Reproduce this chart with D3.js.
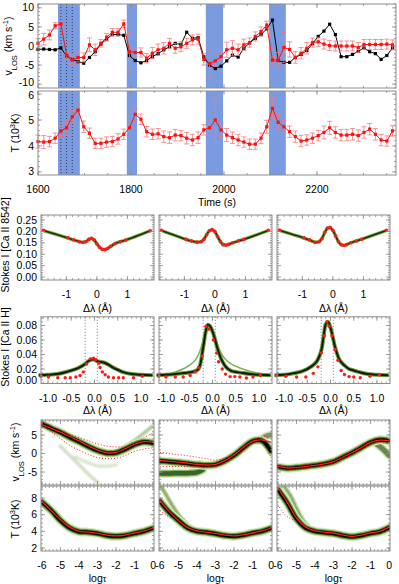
<!DOCTYPE html>
<html><head><meta charset="utf-8">
<script src="https://cdn.jsdelivr.net/npm/d3@7"></script>
<style>body{margin:0;background:#fff}svg{display:block}text{font-family:"Liberation Sans",Arial,sans-serif;fill:#000}</style>
</head><body><script>
// ---------------- DATA ----------------
const times=[1600.0,1612.3,1624.6,1636.9,1649.2,1661.5,1673.8,1686.1,1698.4,1710.7,1723.0,1735.3,1747.6,1759.9,1772.2,1784.5,1796.8,1809.1,1821.4,1833.7,1846.0,1858.3,1870.6,1882.9,1895.2,1907.5,1919.8,1932.1,1944.4,1956.7,1969.0,1981.3,1993.6,2005.9,2018.2,2030.5,2042.8,2055.1,2067.4,2079.7,2092.0,2104.3,2116.6,2128.9,2141.2,2153.5,2165.8,2178.1,2190.4,2202.7,2215.0,2227.3,2239.6,2251.9,2264.2,2276.5,2288.8,2301.1,2313.4,2325.7,2338.0,2350.3,2362.6];
const vBlack=[-0.9,-0.8,-0.9,-1.0,-0.5,-2.6,-3.5,-4.1,-4.5,-3.0,-1.5,0.5,1.8,3.0,3.0,2.8,-2.5,-3.8,-4.4,-3.8,-2.8,-2.0,-1.0,-0.2,0.7,0.4,3.6,2.0,2.2,-2.8,-5.0,-5.9,-5.3,-3.9,-2.4,-2.9,-0.6,0.8,2.0,3.0,4.5,6.8,-3.8,-4.3,-4.3,-3.0,-2.2,-1.2,0.6,2.5,3.9,5.7,3.0,-2.8,-2.8,-2.2,-1.4,-0.5,-1.5,-2.0,-3.5,-2.5,-0.5];
const vRed=[0.7,1.8,2.9,5.3,5.8,-2.4,-3.7,-3.0,-3.0,0.3,-1.0,0.7,2.3,3.6,3.6,5.8,-1.5,-1.7,-1.7,-3.2,-1.9,-1.0,-0.6,0.7,-0.6,-0.2,0.7,1.6,1.8,-3.5,-4.6,-3.9,-2.8,-1.0,-0.6,-1.0,0.3,0.9,2.5,3.8,5.5,-3.7,-3.7,-0.4,-0.9,-3.0,-1.9,-0.6,0.9,1.1,0.5,0.1,0,0,0,0,-0.4,0.4,0.4,0.4,0.4,0.5,0.3];
const vRedErr=[1.2,1.5,1.3,0.8,0.6,0.8,1.2,1.2,1.2,1.8,1.5,1.0,1.0,1.0,1.0,1.0,5.0,1.2,1.2,1.2,1.5,1.5,1.5,1.3,1.3,1.3,1.3,1.3,1.3,1.5,3.5,1.5,1.2,2.0,2.0,1.5,1.5,1.2,1.2,1.2,1.0,1.0,2.0,4.0,2.0,1.5,1.5,1.5,1.2,1.2,1.3,1.3,1.3,1.3,1.3,1.3,1.3,1.3,1.3,1.3,1.3,1.3,1.3];
const tRed=[4.17,4.15,4.17,4.30,4.58,4.70,5.13,5.38,4.74,4.49,4.10,4.10,4.15,4.17,4.27,4.45,4.70,5.22,5.03,4.55,4.45,4.47,4.36,4.32,4.42,4.40,4.30,4.23,4.32,4.62,4.70,5.0,4.62,4.42,4.32,4.23,4.15,4.07,4.07,4.30,4.74,5.45,4.91,4.74,4.55,4.36,4.19,4.23,4.30,4.40,4.52,4.70,4.52,4.42,4.42,4.45,4.40,4.52,4.65,4.45,4.23,4.19,4.58];
const tRedErr=[0.25,0.25,0.2,0.2,0.22,0.3,0.25,0.2,0.22,0.2,0.2,0.2,0.2,0.2,0.2,0.2,0.22,0.22,0.2,0.2,0.2,0.2,0.22,0.22,0.22,0.2,0.22,0.22,0.22,0.2,0.3,0.82,0.25,0.25,0.22,0.22,0.2,0.2,0.2,0.2,0.25,0.38,0.3,0.25,0.22,0.22,0.22,0.2,0.2,0.2,0.25,0.25,0.22,0.22,0.22,0.22,0.22,0.22,0.22,0.22,0.22,0.2,0.2];
const bands=[[1643,1690],[1791,1813],[1961,1998],[2097,2133]];
const markTimes=[1649.2,1661.5,1673.8];
const timeTicks=[1600,1800,2000,2200];
const vTicks=[-10,-5,0,5,10];
const tTicks=[3,4,5,6];

// Ca II 8542 profiles
const wl8542=[-1.75,-0.945,-0.765,-0.585,-0.45,-0.36,-0.27,-0.18,-0.09,0,0.09,0.18,0.27,0.36,0.45,0.585,0.765,0.945,1.75];
const obs8542_1=[0.205,0.172,0.163,0.155,0.152,0.155,0.165,0.170,0.162,0.145,0.130,0.121,0.120,0.126,0.135,0.146,0.155,0.162,0.203];
const fit8542_1=[0.204,0.171,0.163,0.156,0.152,0.156,0.164,0.169,0.163,0.146,0.130,0.122,0.121,0.126,0.134,0.146,0.155,0.162,0.203];
const obs8542_2=[0.205,0.165,0.158,0.153,0.155,0.165,0.185,0.203,0.208,0.200,0.178,0.155,0.142,0.140,0.143,0.150,0.158,0.165,0.205];
const fit8542_2=[0.204,0.165,0.158,0.153,0.156,0.166,0.186,0.202,0.206,0.198,0.177,0.156,0.143,0.140,0.143,0.150,0.158,0.165,0.204];
const obs8542_3=[0.206,0.172,0.163,0.152,0.155,0.168,0.195,0.215,0.218,0.205,0.180,0.155,0.142,0.138,0.142,0.150,0.158,0.166,0.205];
const fit8542_3=[0.205,0.171,0.162,0.153,0.156,0.169,0.194,0.213,0.216,0.204,0.180,0.156,0.142,0.139,0.142,0.150,0.158,0.166,0.204];
const ticks8542X=[-1,0,1];
const ticks8542Y=[0.00,0.05,0.10,0.15,0.20,0.25];

// Ca II H profiles
const wlHobs1=[-1.15,-0.99,-0.79,-0.63,-0.52,-0.40,-0.31,-0.24,-0.17,-0.09,-0.02,0.03,0.09,0.12,0.17,0.23,0.30,0.41,0.52,0.62,0.84,1.03];
const obsH1=[0.010,0.009,0.008,0.008,0.008,0.009,0.011,0.016,0.027,0.034,0.035,0.033,0.028,0.022,0.016,0.012,0.009,0.008,0.008,0.008,0.008,0.010];
const wlHobs2=[-1.15,-1.0,-0.8,-0.63,-0.48,-0.37,-0.3,-0.22,-0.14,-0.08,0.02,0.09,0.13,0.21,0.28,0.38,0.48,0.59,0.73,0.87,1.03];
const obsH2=[0.010,0.009,0.009,0.009,0.011,0.016,0.022,0.038,0.079,0.075,0.060,0.042,0.030,0.020,0.013,0.0095,0.0095,0.009,0.0075,0.009,0.011];
const wlHobs3=[-1.16,-0.96,-0.73,-0.53,-0.37,-0.27,-0.2,-0.13,-0.08,-0.03,0.03,0.1,0.16,0.23,0.3,0.4,0.5,0.64,0.85,1.05];
const obsH3=[0.011,0.010,0.009,0.009,0.014,0.023,0.042,0.066,0.085,0.079,0.066,0.047,0.032,0.018,0.0125,0.0095,0.009,0.008,0.010,0.012];
const wlHfit=[-1.2,-1.0,-0.8,-0.6,-0.4,-0.3,-0.2,-0.15,-0.1,-0.05,0.0,0.05,0.1,0.2,0.3,0.4,0.5,0.6,0.8,1.0,1.25];
const fitH1=[0.0115,0.012,0.013,0.016,0.020,0.023,0.027,0.030,0.032,0.033,0.033,0.031,0.030,0.029,0.026,0.022,0.019,0.016,0.013,0.012,0.0115];
const fitH2=[0.0115,0.012,0.013,0.0145,0.0165,0.020,0.050,0.070,0.081,0.079,0.072,0.062,0.050,0.032,0.022,0.0175,0.016,0.015,0.013,0.012,0.0115];
const fitH2b=[0.0115,0.012,0.016,0.021,0.030,0.040,0.060,0.074,0.081,0.079,0.074,0.065,0.055,0.040,0.032,0.027,0.024,0.021,0.017,0.014,0.012];
const fitH3=[0.0115,0.012,0.014,0.017,0.024,0.030,0.045,0.064,0.082,0.085,0.077,0.064,0.050,0.032,0.025,0.020,0.018,0.016,0.013,0.012,0.0115];
const ticksHX=[-1.0,-0.5,0.0,0.5,1.0];
const ticksHY=[0.00,0.02,0.04,0.06,0.08];
const dotWl=[-0.2,0.06];

// Stratifications
const logTau=[-6,-5.5,-5,-4.5,-4,-3.5,-3,-2.5,-2,-1.5,-1,-0.5,0];
const vHist1=[8.0,6.8,5.7,4.4,3.2,1.9,0.8,0.1,0.2,1.2,2.4,3.1,2.8];
const vFit1=[7.8,6.8,5.8,4.6,3.4,2.1,0.9,0.2,0.3,1.3,2.5,3.2,3.1];
const vUp1=[8.4,7.4,6.3,5.2,4.3,3.5,2.6,2.0,1.8,1.9,2.8,4.3,5.6];
const vLo1=[7.5,5.8,4.0,2.2,0.9,-0.2,-1.1,-1.4,-1.3,-0.5,0.6,1.2,1.6];
const vHist2=[-2.0,-2.2,-2.4,-2.7,-3.0,-3.2,-3.0,-2.0,-0.5,1.5,3.3,3.5,0.6];
const vFit2=[-1.9,-2.1,-2.3,-2.6,-2.9,-3.1,-2.9,-1.9,-0.4,1.6,3.3,3.7,3.0];
const vUp2=[0.3,0.0,-0.3,-0.6,-1.0,-1.4,-1.8,-1.2,-0.2,1.8,3.5,4.5,4.8];
const vLo2=[-3.6,-3.5,-3.5,-3.5,-3.6,-3.6,-3.6,-2.6,-1.0,1.0,2.8,2.5,-1.0];
const vHist3=[-3.6,-4.0,-3.8,-3.5,-3.2,-2.8,-2.2,-1.0,0.2,1.6,3.0,3.7,3.4];
const vFit3=[-3.5,-3.9,-3.8,-3.5,-3.2,-2.8,-2.2,-1.0,0.2,1.6,3.0,3.6,3.5];
const vUp3=[-3.0,-3.4,-3.3,-3.0,-2.7,-2.3,-1.7,-0.5,0.7,2.1,3.5,4.2,4.4];
const vLo3=[-4.1,-4.4,-4.3,-4.0,-3.7,-3.3,-2.7,-1.5,-0.3,1.1,2.5,3.0,2.5];
const tHist1=[7.5,6.5,5.3,4.4,3.95,3.9,3.75,3.5,3.4,3.5,3.75,4.0,4.35];
const tFit1=[7.6,6.5,5.4,4.5,4.0,3.9,3.75,3.55,3.45,3.55,3.8,4.05,4.4];
const tHist2=[7.6,6.3,5.3,4.4,4.0,3.9,3.7,3.5,3.4,3.55,3.8,4.0,4.35];
const tFit2=[7.7,6.4,5.3,4.45,4.05,3.9,3.75,3.55,3.45,3.6,3.8,4.05,4.4];
const tHist3=[9.0,7.4,5.5,4.4,4.0,3.85,3.75,3.5,3.35,3.5,3.75,3.95,4.45];
const tFit3=[9.2,7.5,5.6,4.5,4.05,3.9,3.8,3.55,3.4,3.55,3.8,4.0,4.5];
// secondary solution branches
const brV1a_x=[-5,-4.5,-4,-3.5,-3], brV1a_y=[2.0,-0.5,-3.0,-5.5,-7.8];
const brV1b_x=[-4.2,-3.5,-3,-2.5,-2], brV1b_y=[-1.0,-2.5,-3.3,-3.4,-3.0];
const brV1c_x=[-1.5,-1,-0.5,0], brV1c_y=[2.0,3.5,5.5,7.5];
const brV2a_x=[-6,-5.5,-5,-4.5,-4,-3.7], brV2a_y=[-5.4,-5.4,-5.3,-5.3,-5.1,-4.4];
const brV2b_x=[-0.6,-0.3,0], brV2b_y=[3.5,4.6,5.0];
const brV3a_x=[-0.8,-0.4,0], brV3a_y=[3.0,1.5,-0.5];
const brT2a_x=[-6,-5.7,-5.3,-5,-4.6,-4.3], brT2a_y=[9.6,8.5,7.0,6.0,5.0,4.3];
const brT2b_x=[-6,-5.7,-5.4], brT2b_y=[6.5,6.0,5.6];
const brT3a_x=[-5.7,-5.3,-5,-4.6,-4.3], brT3a_y=[9.5,8.2,6.8,5.2,4.5];
const brT3b_x=[-6,-5.7,-5.4,-5], brT3b_y=[7.2,6.2,5.6,5.2];
const tauTicks=[-6,-5,-4,-3,-2,-1,0];
const vStratTicks=[-5,0,5];
const tStratTicks=[2,4,6,8];

// ---------------- DRAWING ----------------
const svg=d3.select("body").append("svg").attr("width",399).attr("height",584);
const FR="#8c8c8c", FS=10.5;

function frame(g,x,y,o){
  const [x0,x1]=x.range(), [yb,yt]=y.range();
  const dx=x.domain(), dy=y.domain();
  const inD=(v,d)=>v>=Math.min(...d)-1e-9&&v<=Math.max(...d)+1e-9;
  const rng=(d,s)=>{const a=Math.ceil(Math.min(...d)/s-1e-9), b=Math.floor(Math.max(...d)/s+1e-9); return d3.range(a,b+1).map(k=>+(k*s).toFixed(6));};
  const tg=g.append("g").attr("stroke",FR).attr("stroke-width",0.8);
  const xt=(vals,L)=>vals.filter(v=>inD(v,dx)).forEach(v=>{const X=x(v);
    tg.append("line").attr("x1",X).attr("x2",X).attr("y1",yb).attr("y2",yb-L);
    tg.append("line").attr("x1",X).attr("x2",X).attr("y1",yt).attr("y2",yt+L);});
  const yt_=(vals,L)=>vals.filter(v=>inD(v,dy)).forEach(v=>{const Y=y(v);
    tg.append("line").attr("x1",x0).attr("x2",x0+L).attr("y1",Y).attr("y2",Y);
    tg.append("line").attr("x1",x1).attr("x2",x1-L).attr("y1",Y).attr("y2",Y);});
  xt(rng(dx,o.xMin),2); xt(rng(dx,o.xMaj),4);
  yt_(rng(dy,o.yMin),2); yt_(rng(dy,o.yMaj),4);
  g.append("rect").attr("x",x0).attr("y",yt).attr("width",x1-x0).attr("height",yb-yt)
    .attr("fill","none").attr("stroke",FR).attr("stroke-width",1);
  if(o.xLab) o.xLab.forEach(v=>g.append("text").attr("x",x(v)).attr("y",yb+18).attr("text-anchor","middle")
    .attr("font-size",FS).text(o.xFmt(v)));
  if(o.yLab) o.yLab.forEach(v=>g.append("text").attr("x",x0-4).attr("y",y(v)+3.6+(o.yShift?o.yShift(v):0)).attr("text-anchor","end")
    .attr("font-size",FS).text(o.yFmt(v)));
}
function rotLabel(cx,cy,parts){
  const t=svg.append("text").attr("transform",`translate(${cx},${cy}) rotate(-90)`).attr("text-anchor","middle").attr("font-size",FS);
  parts.forEach(p=>{const s=t.append("tspan").text(p[0]); if(p[1]) s.attr("baseline-shift",p[1]).attr("font-size",7.5);});
}
const mfmt=v=>(v<0?"-":"")+Math.abs(v);

// ===== top: time series =====
const xT=d3.scaleLinear().domain([1600,2370]).range([38,396]);
const yV=d3.scaleLinear().domain([-11,11]).range([88,4]);
const yTm=d3.scaleLinear().domain([2.88,6.12]).range([175,91]);
[yV,yTm].forEach(yy=>{
  const g=svg.append("g");
  bands.forEach(b=>g.append("rect").attr("x",xT(b[0])).attr("width",xT(b[1])-xT(b[0]))
    .attr("y",yy.range()[1]).attr("height",yy.range()[0]-yy.range()[1]).attr("fill","#7b9be0"));
  markTimes.forEach(t=>g.append("line").attr("x1",xT(t)).attr("x2",xT(t)).attr("y1",yy.range()[1]).attr("y2",yy.range()[0])
    .attr("stroke","#222").attr("stroke-width",0.8).attr("stroke-dasharray","1,2"));
});
function series(g,x,y,vals,col,err,errCol){
  const pts=times.map((t,i)=>[t,vals[i],err?err[i]:0]);
  if(err){pts.forEach(p=>{const X=x(p[0]),a=y(p[1]-p[2]),b=y(p[1]+p[2]);
    g.append("line").attr("x1",X).attr("x2",X).attr("y1",a).attr("y2",b).attr("stroke",errCol).attr("stroke-width",0.8);
    [a,b].forEach(Y=>g.append("line").attr("x1",X-2.5).attr("x2",X+2.5).attr("y1",Y).attr("y2",Y).attr("stroke",errCol).attr("stroke-width",0.8));});}
  g.append("path").attr("d",d3.line().x(p=>x(p[0])).y(p=>y(p[1]))(pts)).attr("fill","none").attr("stroke",col).attr("stroke-width",1);
  pts.forEach(p=>g.append("rect").attr("x",x(p[0])-1.6).attr("y",y(p[1])-1.6).attr("width",3.2).attr("height",3.2).attr("fill",col));
}
const gV=svg.append("g");
series(gV,xT,yV,vBlack,"#000");
series(gV,xT,yV,vRed,"#ff1010",vRedErr,"#f47a7a");
frame(gV,xT,yV,{xMaj:200,xMin:50,yMaj:5,yMin:1,yLab:vTicks,yFmt:mfmt,yShift:v=>v==-10?-1.5:0});
const gT=svg.append("g");
series(gT,xT,yTm,tRed,"#ff1010",tRedErr,"#f47a7a");
frame(gT,xT,yTm,{xMaj:200,xMin:50,yMaj:1,yMin:0.2,yLab:tTicks,yFmt:mfmt,yShift:v=>v==6?1:0,xLab:timeTicks,xFmt:v=>v});
svg.append("text").attr("x",217).attr("y",206).attr("text-anchor","middle").attr("font-size",FS).text("Time (s)");
rotLabel(12,46,[["v"],["LOS","sub"],[" (km s"],["-1","super"],[")"]]);
rotLabel(19,133,[["T (10"],["3","super"],["K)"]]);

// ===== Ca II 8542 =====
const lefts=[41,159,277], PW=113;
const obs8542=[obs8542_1,obs8542_2,obs8542_3], fit8542=[fit8542_1,fit8542_2,fit8542_3];
const y85=d3.scaleLinear().domain([-0.013,0.272]).range([280,215]);
lefts.forEach((L,k)=>{
  const x=d3.scaleLinear().domain([-1.83,1.87]).range([L,L+PW]);
  const g=svg.append("g");
  const ln=d3.line().curve(d3.curveCatmullRom).x((d,i)=>x(wl8542[i])).y(d=>y85(d));
  g.append("path").attr("d",ln(fit8542[k])).attr("fill","none").attr("stroke","#79a84a").attr("stroke-width",3.4);
  g.append("path").attr("d",ln(fit8542[k])).attr("fill","none").attr("stroke","#1b3508").attr("stroke-width",1.6);
  obs8542[k].forEach((v,i)=>g.append("circle").attr("cx",x(wl8542[i])).attr("cy",y85(v)).attr("r",1.8).attr("fill","#ff1a1a"));
  frame(g,x,y85,{xMaj:1,xMin:0.2,yMaj:0.05,yMin:0.01,xLab:ticks8542X,xFmt:mfmt,yLab:k==0?ticks8542Y:null,yFmt:v=>v.toFixed(2)});
  svg.append("text").attr("x",L+PW/2).attr("y",312).attr("text-anchor","middle").attr("font-size",FS).text("Δλ (Å)");
});
rotLabel(9,245,[["Stokes I [Ca II 8542]"]]);

// ===== Ca II H =====
const yH=d3.scaleLinear().domain([0,0.092]).range([383.5,316.8]);
const obsWlH=[wlHobs1,wlHobs2,wlHobs3], obsH=[obsH1,obsH2,obsH3], fitH=[fitH1,fitH2,fitH3];
lefts.forEach((L,k)=>{
  const x=d3.scaleLinear().domain([-1.15,1.28]).range([L,L+PW]);
  const g=svg.append("g");
  const ln=d3.line().curve(d3.curveCatmullRom).x((d,i)=>x(wlHfit[i])).y(d=>yH(d));
  dotWl.forEach(w=>g.append("line").attr("x1",x(w)).attr("x2",x(w)).attr("y1",yH.range()[1]).attr("y2",yH.range()[0])
    .attr("stroke","#555").attr("stroke-width",0.8).attr("stroke-dasharray","1,2"));
  if(k==1) g.append("path").attr("d",ln(fitH2b)).attr("fill","none").attr("stroke","#86b455").attr("stroke-width",1.6);
  g.append("path").attr("d",ln(fitH[k])).attr("fill","none").attr("stroke","#6e9c3e").attr("stroke-width",4);
  g.append("path").attr("d",ln(fitH[k])).attr("fill","none").attr("stroke","#0d1f04").attr("stroke-width",2);
  obsH[k].forEach((v,i)=>g.append("circle").attr("cx",x(obsWlH[k][i])).attr("cy",yH(v)).attr("r",1.7).attr("fill","#ff1a1a"));
  frame(g,x,yH,{xMaj:0.5,xMin:0.1,yMaj:0.02,yMin:0.005,xLab:ticksHX,xFmt:v=>v.toFixed(1),yLab:k==0?ticksHY:null,yFmt:v=>v.toFixed(2),yShift:v=>v==0?-3:0});
  svg.append("text").attr("x",L+PW/2).attr("y",414).attr("text-anchor","middle").attr("font-size",FS).text("Δλ (Å)");
});
rotLabel(9,347,[["Stokes I [Ca II H]"]]);

// ===== stratifications =====
const yVs=d3.scaleLinear().domain([-8.5,9.05]).range([485,420]);
const yTs=d3.scaleLinear().domain([1.64,9.44]).range([551,486]);
const vH=[vHist1,vHist2,vHist3], vF=[vFit1,vFit2,vFit3], vU=[vUp1,vUp2,vUp3], vL=[vLo1,vLo2,vLo3];
const tH=[tHist1,tHist2,tHist3], tF=[tFit1,tFit2,tFit3];
const vBr=[[[brV1a_x,brV1a_y,0.25,true],[brV1b_x,brV1b_y,0.2,true],[brV1c_x,brV1c_y,0.45,true]],[[brV2a_x,brV2a_y,0.9],[brV2b_x,brV2b_y,0.6]],[[brV3a_x,brV3a_y,0.7]]];
const tBr=[[],[[brT2a_x,brT2a_y,0.7,true]],[[brT3a_x,brT3a_y,0.7,true]]];
const tDot=[null,[brT2b_x,brT2b_y],[brT3b_x,brT3b_y]];
function hist(g,x,y,xs,ys,op,thin){
  const ln=d3.line().curve(d3.curveCatmullRom).x((d,i)=>x(xs[i])).y(d=>y(d));
  const c=g.append("g").attr("opacity",op).attr("fill","none").attr("stroke-linecap","round");
  if(thin){
    c.append("path").attr("d",ln(ys)).attr("stroke","#a9cc86").attr("stroke-width",5).attr("stroke-dasharray","3,2");
    c.append("path").attr("d",ln(ys)).attr("stroke","#5f8f34").attr("stroke-width",2.5).attr("stroke-dasharray","3,2");
    return;
  }
  c.append("path").attr("d",ln(ys)).attr("stroke","#d6e8c2").attr("stroke-width",9);
  c.append("path").attr("d",ln(ys)).attr("stroke","#7aab4a").attr("stroke-width",6.5);
  c.append("path").attr("d",ln(ys)).attr("stroke","#2a4f12").attr("stroke-width",4.5);
  if(op>=1) c.append("path").attr("d",ln(ys)).attr("stroke","#000").attr("stroke-width",3);
}
function redl(g,x,y,xs,ys,dash){
  const ln=d3.line().curve(d3.curveCatmullRom).x((d,i)=>x(xs[i])).y(d=>y(d));
  g.append("path").attr("d",ln(ys)).attr("fill","none").attr("stroke","#ff1a1a").attr("stroke-width",dash?1:1.3).attr("stroke-dasharray",dash?"1,2":null);
}
lefts.forEach((L,k)=>{
  const x=d3.scaleLinear().domain([-6.05,0.05]).range([L,L+PW]);
  const clipV="cv"+k, clipT="ct"+k;
  const defs=svg.append("defs");
  defs.append("clipPath").attr("id",clipV).append("rect").attr("x",L).attr("y",420).attr("width",PW).attr("height",65);
  defs.append("clipPath").attr("id",clipT).append("rect").attr("x",L).attr("y",486).attr("width",PW).attr("height",65);
  const gv=svg.append("g"); const cv=gv.append("g").attr("clip-path",`url(#${clipV})`);
  vBr[k].forEach(b=>hist(cv,x,yVs,b[0],b[1],b[2],b[3]));
  hist(cv,x,yVs,logTau,vH[k],1);
  redl(cv,x,yVs,logTau,vU[k],true); redl(cv,x,yVs,logTau,vL[k],true);
  redl(cv,x,yVs,logTau,vF[k],false);
  frame(gv,x,yVs,{xMaj:1,xMin:0.2,yMaj:5,yMin:1,yLab:k==0?vStratTicks:null,yFmt:mfmt});
  const gt=svg.append("g"); const ct=gt.append("g").attr("clip-path",`url(#${clipT})`);
  tBr[k].forEach(b=>hist(ct,x,yTs,b[0],b[1],b[2],b[3]));
  hist(ct,x,yTs,logTau,tH[k],1);
  if(tDot[k]) redl(ct,x,yTs,tDot[k][0],tDot[k][1],true);
  redl(ct,x,yTs,logTau,tF[k],false);
  frame(gt,x,yTs,{xMaj:1,xMin:0.2,yMaj:2,yMin:0.5,xLab:tauTicks,xFmt:mfmt,yLab:k==0?tStratTicks:null,yFmt:mfmt});
  const lt=svg.append("text").attr("x",L+PW/2).attr("y",582).attr("text-anchor","middle").attr("font-size",FS);
  lt.append("tspan").text("log"); lt.append("tspan").attr("font-size",9).text("τ");
});
rotLabel(19,452,[["v"],["LOS","sub"],[" (km s"],["-1","super"],[")"]]);
rotLabel(19,519,[["T (10"],["3","super"],["K)"]]);
</script></body></html>
